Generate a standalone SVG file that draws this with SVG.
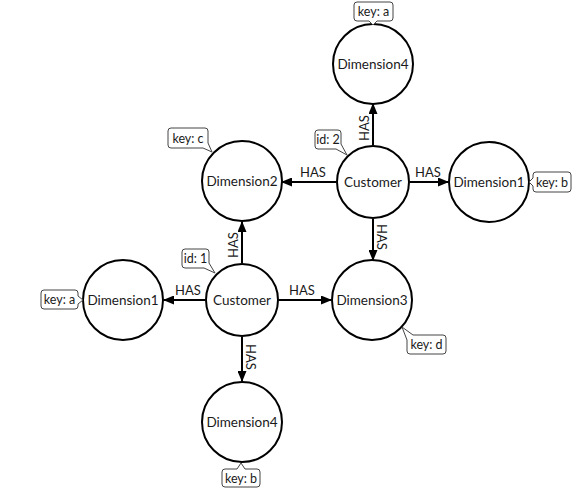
<svg xmlns="http://www.w3.org/2000/svg" width="580" height="489" viewBox="0 0 580 489">
<style>
text{font-family:Lato,"Open Sans","DejaVu Sans",sans-serif;fill:#1a1a1a}
.node circle{fill:#fff;stroke:#000;stroke-width:2}
.node text{font-size:13.5px;text-anchor:middle}
.callout path{fill:#fff;stroke:#444;stroke-width:1}
.callout text{font-size:12.5px;text-anchor:middle}
.edge line{stroke:#000;stroke-width:2;marker-end:url(#arr)}
.edge text{font-size:13px;text-anchor:middle}
</style>
<defs>
<marker id="arr" markerUnits="userSpaceOnUse" markerWidth="11" markerHeight="9" refX="10" refY="4.5" orient="auto">
<path d="M0,0 L11,4.5 L0,9 Z" fill="#000"/>
</marker>
</defs>
<rect width="580" height="489" fill="#fff"/>
<g id="connectors">
<g class="edge"><line x1="373" y1="145" x2="373" y2="104"/><text transform="translate(369,128) rotate(-90)">HAS</text></g>
<g class="edge"><line x1="336" y1="182" x2="282" y2="182"/><text x="313" y="177">HAS</text></g>
<g class="edge"><line x1="410" y1="182" x2="448" y2="182"/><text x="428" y="177">HAS</text></g>
<g class="edge"><line x1="373" y1="219" x2="373" y2="260"/><text transform="translate(377,237) rotate(90)">HAS</text></g>
<g class="edge"><line x1="242" y1="263" x2="242" y2="222"/><text transform="translate(238,245) rotate(-90)">HAS</text></g>
<g class="edge"><line x1="205" y1="300" x2="164" y2="300"/><text x="188" y="295">HAS</text></g>
<g class="edge"><line x1="279" y1="300" x2="331" y2="300"/><text x="302" y="295">HAS</text></g>
<g class="edge"><line x1="242" y1="337" x2="242" y2="381"/><text transform="translate(246,357) rotate(90)">HAS</text></g>
</g>
<g id="dim4-top" class="node"><circle cx="373" cy="64" r="40"/><text x="373" y="68.5">Dimension4</text></g>
<g id="dim2" class="node"><circle cx="242" cy="181" r="40"/><text x="242" y="185.5">Dimension2</text></g>
<g id="customer2" class="node"><circle cx="373" cy="182" r="36"/><text x="373" y="186.5">Customer</text></g>
<g id="dim1-right" class="node"><circle cx="489" cy="182" r="40"/><text x="489" y="186.5">Dimension1</text></g>
<g id="dim1-left" class="node"><circle cx="123" cy="300" r="40"/><text x="123" y="304.5">Dimension1</text></g>
<g id="customer1" class="node"><circle cx="242" cy="300" r="36"/><text x="242" y="304.5">Customer</text></g>
<g id="dim3" class="node"><circle cx="372" cy="300" r="40"/><text x="372" y="304.5">Dimension3</text></g>
<g id="dim4-bottom" class="node"><circle cx="242" cy="422" r="40"/><text x="242" y="426.5">Dimension4</text></g>
<g id="callout-key-a-top" class="callout"><path d="M357,2 H390 Q393,2 393,5 V18 Q393,21 390,21 H377 L373,25 L369,21 H357 Q354,21 354,18 V5 Q354,2 357,2 Z"/><text x="373.5" y="16">key: a</text></g>
<g id="callout-key-c" class="callout"><path d="M171,128 H205 Q208,128 208,131 V143 L212,152 L203,148 H171 Q168,148 168,145 V131 Q168,128 171,128 Z"/><text x="188" y="142.5">key: c</text></g>
<g id="callout-id-2" class="callout"><path d="M318,130 H338 Q341,130 341,133 V144 L347,155 L336,149 H318 Q315,149 315,146 V133 Q315,130 318,130 Z"/><text x="328" y="144">id: 2</text></g>
<g id="callout-key-b-right" class="callout"><path d="M536,172 H568 Q571,172 571,175 V189 Q571,192 568,192 H536 Q533,192 533,189 V186 L529,182 L533,178 V175 Q533,172 536,172 Z"/><text x="552" y="186.5">key: b</text></g>
<g id="callout-id-1" class="callout"><path d="M185,249 H206 Q209,249 209,252 V263 L215,273 L204,268 H185 Q182,268 182,265 V252 Q182,249 185,249 Z"/><text x="195.5" y="263">id: 1</text></g>
<g id="callout-key-a-left" class="callout"><path d="M44,290 H75 Q78,290 78,293 V296 L83,300 L78,304 V306 Q78,309 75,309 H44 Q41,309 41,306 V293 Q41,290 44,290 Z"/><text x="59.5" y="304">key: a</text></g>
<g id="callout-key-d" class="callout"><path d="M413,335 H443 Q446,335 446,338 V351 Q446,354 443,354 H410 Q407,354 407,351 V340 L402,327 Z"/><text x="426.5" y="349">key: d</text></g>
<g id="callout-key-b-bottom" class="callout"><path d="M225,469 H237 L241,463 L245,469 H257 Q260,469 260,472 V484 Q260,487 257,487 H225 Q222,487 222,484 V472 Q222,469 225,469 Z"/><text x="241" y="482.5">key: b</text></g>
</svg>
